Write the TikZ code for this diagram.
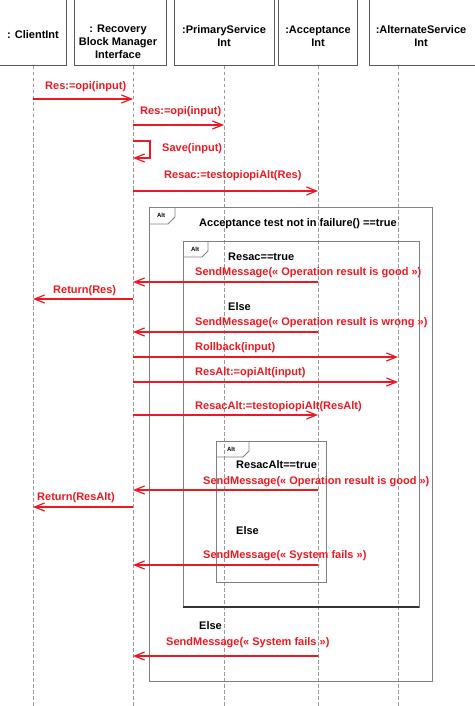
\documentclass[tikz,border=0pt]{standalone}
\usepackage{fontspec}
\setmainfont{Liberation Sans}
\usetikzlibrary{arrows.meta}
\definecolor{msgred}{RGB}{240,24,32}
\tikzset{
  headbox/.style={draw=black!65, line width=1pt, minimum height=72pt, inner sep=0pt},
  headtxt/.style={align=center, font=\fontsize{11}{13}\selectfont\bfseries, inner sep=0pt},
  life/.style={draw=black!40, line width=0.6pt, dash pattern=on 3.5pt off 2.5pt},
  msg/.style={draw=msgred, line width=1.2pt, -{Straight Barb[length=10pt,width=8pt]}},
  lbl/.style={text=msgred, font=\fontsize{11}{13}\selectfont\bfseries, anchor=west, inner sep=0pt},
  guard/.style={font=\fontsize{11}{13}\selectfont\bfseries, anchor=west, inner sep=0pt},
  frame/.style={draw=black!50, line width=0.9pt},
  tab/.style={font=\fontsize{6}{7}\selectfont\bfseries, inner sep=0pt}
}
\begin{document}
\begin{tikzpicture}[x=1pt,y=-1pt]
\useasboundingbox (0,0) rectangle (474,706);
% heads
\node[headbox, minimum width=74pt] (hC) at (29,30) {};
\node[headbox, minimum width=92pt] (hR) at (120,30) {};
\node[headbox, minimum width=100pt] (hP) at (224,30) {};
\node[headbox, minimum width=79pt] (hA) at (317.5,30) {};
\node[headbox, minimum width=110pt] (hS) at (424,30) {};
\node[headtxt] (tC) at (33,35) {: ClientInt};
\node[headtxt] (tR) at (118,41.5) {: Recovery\\Block Manager\\Interface};
\node[headtxt] (tP) at (224,36) {:PrimaryService\\Int};
\node[headtxt] (tA) at (318,36) {:Acceptance\\Int};
\node[headtxt] (tS) at (421,36) {:AlternateService\\Int};
\foreach \n/\x in {C/33,R/133,P/224,A/318,S/398}{
  \coordinate (\n) at (\x,66);
  \coordinate (\n e) at (\x,706);
  \draw[life] (\n) -- (\n e);
}
% alt frames
\draw[frame] (149,207) rectangle (432,681);
\draw[frame] (149,224) -- (168,224) -- (175,217) -- (175,207);
\node[tab] (t1) at (161,215) {Alt};
\draw[frame] (183,241) rectangle (419,607);
\draw[frame] (183,257) -- (202,257) -- (208,251) -- (208,241);
\node[tab] (t2) at (195,249) {Alt};
\draw[black!80, line width=1.4pt] (183,607) -- (419,607);
\draw[frame] (216,441) rectangle (326,582);
\draw[frame] (216,457) -- (243,457) -- (249,451) -- (249,441);
\node[tab] (t3) at (231,449) {Alt};
% guards
\node[guard] (g1) at (199,224) {Acceptance test not in failure() ==true};
\node[guard] (g2) at (228,257) {Resac==true};
\node[guard] (g3) at (228,307) {Else};
\node[guard] (g4) at (236,465) {ResacAlt==true};
\node[guard] (g5) at (236,531) {Else};
\node[guard] (g6) at (199,626) {Else};
% messages
\foreach \a/\b/\y/\lx/\ly/\t [count=\i] in {
  C/R/99/45/87/{Res:=opi(input)},
  R/P/125/140/112/{Res:=opi(input)},
  R/A/191/164/176/{Resac:=testopiopiAlt(Res)},
  A/R/282/195/273/{SendMessage(« Operation result is good »)},
  R/C/299/53/291/{Return(Res)},
  A/R/332/195/323/{SendMessage(« Operation result is wrong »)},
  R/S/357/195/348/{Rollback(input)},
  R/S/382/195/373/{ResAlt:=opiAlt(input)},
  R/A/415/195/407/{ResacAlt:=testopiopiAlt(ResAlt)},
  A/R/490/203/482/{SendMessage(« Operation result is good »)},
  R/C/507/37/498/{Return(ResAlt)},
  A/R/565/203/556/{SendMessage(« System fails »)},
  A/R/656/166/643/{SendMessage(« System fails »)}}{
  \draw[msg] (\a |- 0,\y) -- (\b |- 0,\y);
  \node[lbl] (l\i) at (\lx,\ly) {\t};
}
\draw[msg] (R |- 0,141) -- ++(17,0) |- (R |- 0,158);
\node[lbl] (ls) at (162,149) {Save(input)};
\end{tikzpicture}
\end{document}
